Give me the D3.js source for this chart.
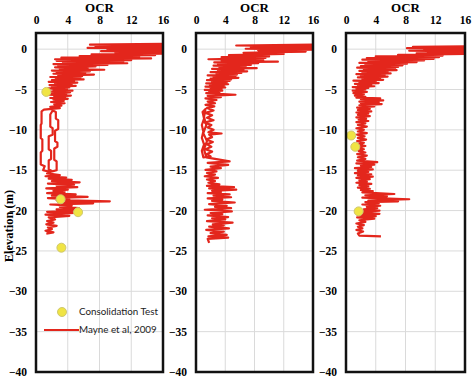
<!DOCTYPE html>
<html>
<head>
<meta charset="utf-8">
<script src="https://cdn.jsdelivr.net/npm/d3@7"></script>
<style>
  body { margin: 0; background: #fff; }
  svg { display: block; }
</style>
</head>
<body>
<svg id="chart" width="474" height="389"></svg>
<script>
// OCR profiles, [OCR, elevation m]
const profile1 = [
  [16, 0.65], [6.8, 0.55], [16, 0.45], [7.5, 0.35], [16, 0.25], [6.5, 0.15], [16, 0.05], [9, -0.05],
  [16, -0.15], [8.2, -0.25], [16, -0.35], [10, -0.45], [16, -0.55], [7, -0.65], [15, -0.75], [5.5, -0.85],
  [13, -0.95], [3.2, -1.05], [14.5, -1.15], [2.4, -1.25], [12, -1.35], [2.6, -1.45], [11, -1.55],
  [3.4, -1.65], [11.5, -1.75], [2.2, -1.85], [9, -1.95], [2.8, -2.05], [7.5, -2.15], [2.4, -2.25],
  [6.5, -2.35], [3, -2.45], [8.6, -2.55], [2.0, -2.65], [6.8, -2.75], [2.6, -2.85], [6.2, -2.95],
  [2.2, -3.05], [7.3, -3.15], [2.8, -3.25], [5.8, -3.35], [1.8, -3.45], [5.6, -3.55], [2.5, -3.65],
  [6.0, -3.75], [2.0, -3.85], [4.8, -3.95], [1.6, -4.05], [5.2, -4.15], [2.4, -4.25], [4.5, -4.35],
  [1.7, -4.45], [5.0, -4.55], [2.0, -4.65], [4.2, -4.75], [1.5, -4.85], [3.9, -4.95], [2.2, -5.05],
  [4.6, -5.15], [1.7, -5.25], [4.3, -5.35], [2.0, -5.45], [3.8, -5.55], [1.6, -5.65], [4.4, -5.75],
  [2.3, -5.85], [3.7, -5.95], [1.8, -6.05], [4.0, -6.15], [2.2, -6.25], [3.5, -6.4], [1.9, -6.55],
  [3.6, -6.7], [2.3, -6.85], [3.2, -7.0], [1.8, -7.15], [3.0, -7.3],
  [1.0, -7.5], [0.7, -7.7], [0.7, -9.2], [0.6, -9.4], [0.6, -11.0], [0.8, -11.2], [0.8, -12.6],
  [0.6, -12.8], [0.6, -14.3], [1.1, -14.5], [0.9, -15.0], [1.8, -15.2],
  [2.6, -15.0], [2.6, -13.9], [2.3, -13.7], [2.3, -12.3], [2.7, -12.1], [2.7, -11.6], [2.4, -11.4],
  [2.4, -10.1], [2.8, -9.9], [2.8, -8.8], [2.5, -8.6], [2.5, -7.8], [2.1, -7.6],
  [1.8, -8.1], [1.8, -9.6], [2.1, -9.8], [2.1, -10.6], [1.6, -10.8], [1.6, -12.4], [1.9, -12.6],
  [1.9, -13.6], [1.6, -13.8], [1.6, -14.9], [2.0, -15.1], [1.4, -15.4],
  [3.0, -15.6], [1.2, -15.75], [3.8, -15.9], [1.6, -16.05], [4.5, -16.2], [2.0, -16.35], [5.5, -16.5],
  [1.5, -16.65], [4.8, -16.8], [2.6, -16.95], [5.2, -17.1], [1.3, -17.25], [4.0, -17.4], [2.2, -17.55],
  [3.6, -17.7], [1.4, -17.85], [5.0, -18.0], [2.0, -18.15], [6.5, -18.3], [1.5, -18.45], [4.2, -18.6],
  [2.6, -18.7], [9.3, -18.85], [2.8, -18.95], [7.2, -19.1], [1.8, -19.25], [4.5, -19.4], [3.0, -19.55],
  [5.4, -19.7], [2.6, -19.85], [5.2, -20.0], [1.4, -20.15], [4.8, -20.3], [1.2, -20.5], [4.2, -20.65],
  [1.6, -20.85], [2.4, -21.1], [1.4, -21.3], [2.2, -21.5], [1.3, -21.7], [2.6, -21.9], [1.5, -22.1],
  [2.0, -22.3], [1.2, -22.5], [2.2, -22.7], [1.3, -22.85]
]

const profile2 = [
  [16, 0.55], [5.5, 0.45], [16, 0.35], [7.5, 0.25], [16, 0.15], [6.8, 0.05], [16, -0.05], [8.5, -0.15],
  [15, -0.3], [6.5, -0.45], [12, -0.6], [4.5, -0.75], [10, -0.9], [3.5, -1.0], [9.5, -1.1], [1.7, -1.25],
  [9.2, -1.35], [3.5, -1.45], [11.2, -1.55], [2.5, -1.65], [8.5, -1.75], [3.0, -1.85], [7.5, -1.95],
  [2.4, -2.05], [6.8, -2.15], [3.2, -2.25], [8.3, -2.35], [2.2, -2.45], [6.5, -2.55], [3.0, -2.65],
  [7.0, -2.75], [2.0, -2.85], [6.2, -2.95], [2.8, -3.05], [5.6, -3.15], [1.6, -3.25], [5.4, -3.35],
  [2.4, -3.45], [5.8, -3.55], [2.0, -3.65], [4.8, -3.75], [1.5, -3.85], [4.6, -3.95], [2.2, -4.05],
  [4.2, -4.15], [1.4, -4.25], [4.4, -4.35], [1.9, -4.45], [3.8, -4.55], [1.3, -4.65], [4.0, -4.75],
  [2.0, -4.85], [3.5, -4.95], [1.2, -5.05], [3.6, -5.15], [1.8, -5.25], [3.2, -5.35], [1.4, -5.45],
  [5.4, -5.65], [1.6, -5.8], [3.4, -5.95], [1.3, -6.1], [2.8, -6.3], [1.6, -6.5], [2.6, -6.7],
  [1.3, -6.9], [2.5, -7.1], [1.5, -7.3], [2.4, -7.6], [1.3, -7.9], [2.2, -8.2], [1.5, -8.5], [2.4, -8.8],
  [1.2, -9.1], [2.1, -9.4], [1.6, -9.7], [2.4, -10.0], [1.7, -10.3], [3.5, -10.45], [1.8, -10.6],
  [2.2, -10.9], [1.4, -11.2], [2.3, -11.5], [1.5, -11.8], [2.1, -12.1], [1.3, -12.4], [2.2, -12.7],
  [1.5, -13.0], [2.0, -13.3], [1.0, -13.4], [0.8, -12.6], [1.1, -11.8], [0.8, -11.0], [1.0, -10.2],
  [0.8, -9.4], [1.1, -8.6], [0.9, -7.8], [1.3, -7.4], [1.1, -8.4], [1.4, -9.4], [1.0, -10.4],
  [1.5, -11.4], [1.1, -12.4], [1.4, -13.4], [4.6, -13.9], [1.6, -14.1], [4.4, -14.35], [2.0, -14.55],
  [3.4, -14.75], [1.3, -14.95], [2.8, -15.15], [1.5, -15.35], [2.6, -15.55], [1.2, -15.75], [3.0, -15.95],
  [1.5, -16.15], [2.6, -16.35], [1.7, -16.55], [3.2, -16.75], [1.5, -16.95], [5.2, -17.1], [1.8, -17.25],
  [5.5, -17.4], [2.2, -17.55], [3.4, -17.7], [1.6, -17.85], [4.6, -18.0], [2.4, -18.15], [4.8, -18.35],
  [1.6, -18.5], [3.6, -18.65], [2.2, -18.8], [5.3, -19.0], [1.8, -19.2], [4.2, -19.4], [2.6, -19.55],
  [4.8, -19.7], [1.2, -19.9], [4.9, -20.1], [2.0, -20.3], [3.6, -20.45], [1.6, -20.6], [4.4, -20.8],
  [2.2, -20.95], [4.0, -21.1], [1.5, -21.3], [5.0, -21.5], [2.3, -21.7], [3.8, -21.85], [1.8, -22.0],
  [4.5, -22.2], [1.4, -22.4], [3.8, -22.6], [2.0, -22.8], [4.2, -23.0], [1.7, -23.2], [4.4, -23.35],
  [1.6, -23.5], [1.8, -24.0]
]

const profile3 = [
  [16, 0.35], [9, 0.28], [16, 0.2], [8.2, 0.12], [16, 0.04], [10.5, -0.04], [16, -0.12], [8.5, -0.2],
  [16, -0.28], [11, -0.36], [16, -0.44], [9.5, -0.52], [16, -0.6], [7, -0.7], [13, -0.8], [4, -0.9],
  [12.5, -1.0], [2.8, -1.1], [11.8, -1.2], [2.2, -1.3], [10.5, -1.4], [3.0, -1.5], [9.5, -1.6],
  [1.8, -1.7], [8.2, -1.8], [2.6, -1.9], [7.6, -2.0], [2.0, -2.1], [7.0, -2.2], [1.5, -2.3], [6.6, -2.4],
  [2.4, -2.5], [6.8, -2.6], [1.8, -2.7], [5.6, -2.8], [2.2, -2.9], [6.0, -3.0], [1.4, -3.1], [5.2, -3.2],
  [2.0, -3.3], [5.6, -3.4], [1.6, -3.5], [4.6, -3.6], [2.2, -3.7], [5.0, -3.8], [1.0, -3.9], [4.0, -4.0],
  [1.8, -4.1], [4.4, -4.2], [1.2, -4.3], [3.4, -4.4], [1.6, -4.5], [3.8, -4.6], [0.9, -4.7], [3.0, -4.8],
  [1.4, -4.9], [2.6, -5.0], [0.9, -5.15], [2.8, -5.3], [1.0, -5.45], [2.4, -5.6], [1.2, -5.75],
  [2.6, -5.9], [1.4, -6.0], [4.6, -6.1], [2.0, -6.2], [5.0, -6.35], [1.8, -6.5], [4.4, -6.6], [2.0, -6.7],
  [4.8, -6.8], [1.8, -6.95], [3.8, -7.1], [1.5, -7.25], [3.2, -7.4], [1.6, -7.55], [3.4, -7.7],
  [1.4, -7.85], [3.0, -8.0], [1.6, -8.15], [3.2, -8.3], [1.4, -8.45], [2.7, -8.6], [1.7, -8.75],
  [3.0, -8.9], [1.4, -9.05], [2.6, -9.2], [1.6, -9.4], [2.8, -9.6], [1.4, -9.8], [2.4, -10.0], [1.6, -10.2],
  [2.8, -10.4], [1.5, -10.6], [2.5, -10.8], [1.6, -11.0], [2.7, -11.2], [1.5, -11.4], [2.4, -11.6],
  [1.7, -11.8], [2.6, -12.0], [1.5, -12.2], [2.4, -12.4], [1.7, -12.6], [2.6, -12.8], [1.5, -13.0],
  [2.8, -13.2], [1.6, -13.4], [2.6, -13.6], [1.5, -13.8], [4.2, -14.0], [1.4, -14.15], [3.8, -14.3],
  [2.0, -14.45], [3.4, -14.6], [1.2, -14.75], [3.6, -14.9], [1.6, -15.05], [3.0, -15.2], [1.2, -15.35],
  [3.4, -15.5], [1.6, -15.65], [3.6, -15.8], [1.4, -15.95], [3.2, -16.1], [1.8, -16.25], [2.8, -16.4],
  [1.4, -16.55], [3.4, -16.7], [1.8, -16.85], [3.0, -17.0], [1.6, -17.15], [3.2, -17.3], [2.0, -17.45],
  [3.6, -17.6], [2.2, -17.75], [6.5, -17.95], [2.6, -18.1], [5.5, -18.25], [2.2, -18.4], [8.5, -18.6],
  [3.0, -18.75], [7.0, -18.85], [2.6, -18.95], [4.4, -19.1], [2.2, -19.25], [4.6, -19.4], [2.8, -19.55],
  [4.2, -19.7], [2.4, -19.85], [4.5, -20.0], [1.3, -20.2], [4.5, -20.4], [1.6, -20.55], [4.0, -20.7],
  [1.5, -20.85], [3.8, -21.0], [1.8, -21.2], [2.6, -21.4], [1.4, -21.6], [2.4, -21.8], [1.6, -22.0],
  [2.2, -22.2], [1.4, -22.4], [2.3, -22.6], [1.6, -22.85], [1.8, -23.1], [4.7, -23.2]
]

// consolidation tests, [OCR, elevation m]
const tests1 = [[1.3, -5.3], [3.1, -18.6], [5.3, -20.2], [3.2, -24.6]]
const tests2 = []
const tests3 = [[0.7, -10.7], [1.25, -12.1], [1.7, -20.1]]

const ocrTicks = [0, 4, 8, 12, 16]
const elevTicks = [0, -5, -10, -15, -20, -25, -30, -35, -40]
const legendLabels = ['Consolidation Test', 'Mayne et al, 2009']

const panels = [
  { left: 36, right: 163, profile: profile1, tests: tests1 },
  { left: 196, right: 313, profile: profile2, tests: tests2 },
  { left: 346, right: 465, profile: profile3, tests: tests3 }
]

const plotTop = 33
const plotBottom = 372
const red = '#e3261c'
const serif = '"Liberation Serif", "Times New Roman", serif'

const svg = d3.select('#chart')
const yScale = d3.scaleLinear().domain([-40, 2]).range([plotBottom, plotTop])

function boldSerif(sel, size) {
  sel.style('font-family', serif)
    .style('font-weight', 'bold')
    .style('font-size', size + 'px')
    .attr('fill', '#000')
}

panels.forEach(function(p, i) {
  const xScale = d3.scaleLinear().domain([0, 16]).range([p.left, p.right])
  const g = svg.append('g')

  svg.append('clipPath')
    .attr('id', 'clip' + i)
    .append('rect')
    .attr('x', p.left)
    .attr('y', plotTop)
    .attr('width', p.right - p.left)
    .attr('height', plotBottom - plotTop)

  // grid
  g.selectAll('.vgrid')
    .data(ocrTicks.slice(1, -1))
    .enter()
    .append('line')
    .attr('x1', d => xScale(d))
    .attr('x2', d => xScale(d))
    .attr('y1', plotTop)
    .attr('y2', plotBottom)
    .attr('stroke', '#dadada')
    .attr('stroke-width', 1)
  g.selectAll('.hgrid')
    .data(elevTicks.slice(0, -1))
    .enter()
    .append('line')
    .attr('x1', p.left)
    .attr('x2', p.right)
    .attr('y1', d => yScale(d))
    .attr('y2', d => yScale(d))
    .attr('stroke', '#dadada')
    .attr('stroke-width', 1)

  // axes
  const xAxis = d3.axisTop(xScale).tickValues(ocrTicks).tickSize(0).tickPadding(0)
  const xg = svg.append('g')
    .attr('transform', 'translate(0,24)')
    .call(xAxis)
  xg.select('.domain').remove()
  xg.selectAll('text').call(boldSerif, 11.5)

  const yAxis = d3.axisLeft(yScale).tickValues(elevTicks).tickSize(0).tickPadding(0)
  const yg = svg.append('g')
    .attr('transform', 'translate(' + (p.left - 9) + ',0)')
    .call(yAxis)
  yg.select('.domain').remove()
  yg.selectAll('text').call(boldSerif, 11.5)

  svg.append('text')
    .attr('x', (p.left + p.right) / 2)
    .attr('y', 12)
    .attr('text-anchor', 'middle')
    .call(boldSerif, 13)
    .text('OCR')

  // profile
  const line = d3.line()
    .x(d => xScale(d[0]))
    .y(d => yScale(d[1]))
  g.append('path')
    .datum(p.profile)
    .attr('clip-path', 'url(#clip' + i + ')')
    .attr('d', line)
    .attr('fill', 'none')
    .attr('stroke', red)
    .attr('stroke-width', 2.2)
    .attr('stroke-linejoin', 'round')

  g.selectAll('.test')
    .data(p.tests)
    .enter()
    .append('circle')
    .attr('cx', d => xScale(d[0]))
    .attr('cy', d => yScale(d[1]))
    .attr('r', 4.5)
    .attr('fill', '#f0e444')
    .attr('stroke', '#cfc86e')
    .attr('stroke-width', 1)

  // frame
  g.append('rect')
    .attr('x', p.left)
    .attr('y', plotTop)
    .attr('width', p.right - p.left)
    .attr('height', plotBottom - plotTop)
    .attr('fill', 'none')
    .attr('stroke', '#111')
    .attr('stroke-width', 2.5)
})

svg.append('text')
  .attr('transform', 'translate(13,226) rotate(-90)')
  .attr('text-anchor', 'middle')
  .call(boldSerif, 12.5)
  .text('Elevation (m)')

// legend
const legend = svg.append('g')
legend.append('circle')
  .attr('cx', 62)
  .attr('cy', 312)
  .attr('r', 4.5)
  .attr('fill', '#f0e444')
  .attr('stroke', '#cfc86e')
legend.append('line')
  .attr('x1', 44)
  .attr('x2', 79)
  .attr('y1', 330)
  .attr('y2', 330)
  .attr('stroke', red)
  .attr('stroke-width', 2)
legend.selectAll('.label')
  .data(legendLabels)
  .enter()
  .append('text')
  .attr('x', 79)
  .attr('y', (d, i) => 312 + i * 18)
  .attr('dy', '0.35em')
  .style('font-family', 'Lato, "Open Sans", sans-serif')
  .style('font-size', '9.8px')
  .attr('fill', '#222')
  .text(d => d)
</script>
</body>
</html>
